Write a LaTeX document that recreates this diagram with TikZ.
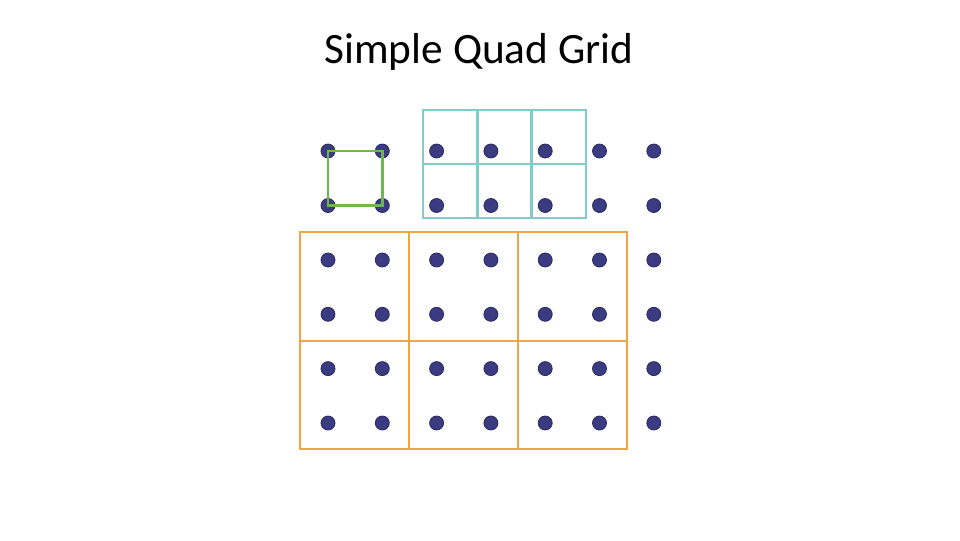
\documentclass[tikz,border=0pt]{standalone}
\usepackage{fontspec}
\setmainfont{Carlito}
\definecolor{dotc}{HTML}{3B3B82}
\definecolor{dote}{HTML}{2A2A60}
\definecolor{tealc}{HTML}{80CCC8}
\definecolor{greenc}{HTML}{6BB94F}
\definecolor{orangec}{HTML}{F2A547}
\tikzset{dotn/.style={circle,fill=dotc,draw=dote,line width=0.6pt,minimum size=10.5pt,inner sep=0pt},
 gridline/.style={line width=2.1pt}}
\begin{document}
\begin{tikzpicture}[x=0.75pt,y=-0.75pt]
\useasboundingbox (0,0) rectangle (960,540);
\node (title) at (479,52) {\fontsize{32.5pt}{38pt}\selectfont Simple Quad Grid};
\foreach \i/\x in {1/328,2/382.3,3/436.6,4/490.9,5/545.2,6/599.5,7/653.8}
  \foreach \j/\y in {1/151,2/205.5,3/260,4/314.3,5/368.6,6/423}
    \node[dotn] (d\i\j) at (\x,\y) {};
\draw[gridline,tealc] (423,110) rectangle (586,218);
\foreach \x in {477.3,531.6} \draw[gridline,tealc] (\x,110) -- (\x,218);
\draw[gridline,tealc] (423,164) -- (586,164);
\draw[gridline,greenc] (328,151) rectangle (382.3,205.5);
\draw[gridline,orangec] (300,232) rectangle (627,449);
\foreach \x in {409,518} \draw[gridline,orangec] (\x,232) -- (\x,449);
\draw[gridline,orangec] (300,341) -- (627,341);
\end{tikzpicture}
\end{document}
